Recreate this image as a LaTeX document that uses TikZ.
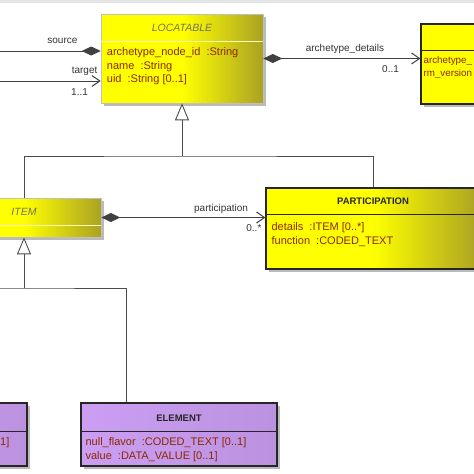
\documentclass[tikz,border=0pt]{standalone}
\usepackage{fontspec}
\setmainfont{Liberation Sans}
\usetikzlibrary{arrows.meta,shadows}
\definecolor{classolive}{RGB}{170,162,35}
\definecolor{classlilac}{RGB}{203,158,243}
\definecolor{attrred}{RGB}{140,40,0}
\definecolor{abstractgray}{RGB}{115,115,95}

\begin{document}
\begin{tikzpicture}
[x=1pt, y=-1pt,
abstract class/.style={left color=yellow, right color=classolive, middle color=yellow, draw=black!25, line width=0.6pt, inner sep=0pt, drop shadow={shadow xshift=3pt, shadow yshift=-3pt, fill=black!45, opacity=.6}},
concrete class/.style={abstract class, draw=black!85, line width=1.2pt},
lilac class/.style={left color=classlilac, right color=classlilac!92!black, draw=black!85, line width=1.2pt, inner sep=0pt, drop shadow={shadow xshift=3pt, shadow yshift=-3pt, fill=black!45, opacity=.6}},
abstract title/.style={font=\fontsize{10.5}{12}\selectfont\itshape, text=abstractgray},
concrete title/.style={font=\fontsize{9.5}{11}\selectfont\bfseries, text=black!85},
attribute/.style={font=\fontsize{11}{13.5}\selectfont, text=attrred, align=left, anchor=north west, inner sep=0pt},
role/.style={font=\fontsize{10}{12}\selectfont, text=black!80, inner sep=1pt},
light divider/.style={draw=yellow!30!white, line width=1.2pt},
dark divider/.style={draw=black!85, line width=1pt},
association/.style={draw=black!75, line width=1pt},
composition/.style={association, {Diamond[length=19pt, width=9pt]}-},
navigable/.style={association, -{Straight Barb[length=8pt, width=11pt]}},
navigable composition/.style={association, {Diamond[length=19pt, width=9pt]}-{Straight Barb[length=8pt, width=11pt]}},
hierarchy/.style={draw=black!70, line width=0.9pt},
inheritance/.style={hierarchy, -{Triangle[length=17pt, width=14pt, fill=white]}}]
\useasboundingbox (0,0) rectangle (474,474);
\clip (0,0) rectangle (474,474);
\fill[white] (0,0) rectangle (474,474);
\fill[black!10] (0,0) rectangle (474,3);
\node[abstract class, minimum width=162, minimum height=89] (locatable) at (182,58.5) {};
\draw[light divider] ([yshift=-28pt]locatable.north west) -- ([yshift=-28pt]locatable.north east);
\node[abstract title] (locatable title) at ([yshift=-14pt]locatable.north) {LOCATABLE};
\node[attribute] (locatable attributes) at ([xshift=6pt, yshift=-34pt]locatable.north west) {archetype\_node\_id~ :String\\name~ :String\\uid~ :String [0..1]};
\node[concrete class, minimum width=160, minimum height=80] (archetyped) at (501,64) {};
\draw[dark divider] ([yshift=-27pt]archetyped.north west) -- ([yshift=-27pt]archetyped.north east);
\node[attribute, font=\fontsize{9.8}{13}\selectfont] (archetyped attributes) at ([xshift=3pt, yshift=-33pt]archetyped.north west) {archetype\_\\rm\_version};
\node[abstract class, minimum width=154, minimum height=39] (item) at (24,217.5) {};
\draw[light divider] ([yshift=-28pt]item.north west) -- ([yshift=-28pt]item.north east);
\node[abstract title] (item title) at ([yshift=-14pt]item.north) {ITEM};
\node[concrete class, minimum width=214, minimum height=81] (participation) at (373,228.5) {};
\draw[dark divider] ([yshift=-27pt]participation.north west) -- ([yshift=-27pt]participation.north east);
\node[concrete title] (participation title) at ([yshift=-14pt]participation.north) {PARTICIPATION};
\node[attribute] (participation attributes) at ([xshift=6pt, yshift=-35pt]participation.north west) {details~ :ITEM [0..*]\\function~ :CODED\_TEXT};
\node[lilac class, minimum width=196, minimum height=63] (element) at (179,434.5) {};
\draw[dark divider] ([yshift=-29pt]element.north west) -- ([yshift=-29pt]element.north east);
\node[concrete title] (element title) at ([yshift=-15.5pt]element.north) {ELEMENT};
\node[attribute] (element attributes) at ([xshift=5pt, yshift=-35pt]element.north west) {null\_flavor~ :CODED\_TEXT [0..1]\\value~ :DATA\_VALUE [0..1]};
\node[lilac class, minimum width=177, minimum height=63] (cluster) at (-61.5,434.5) {};
\draw[dark divider] ([yshift=-29pt]cluster.north west) -- ([yshift=-29pt]cluster.north east);
\node[attribute, anchor=north east] (cluster attributes) at ([xshift=-18pt, yshift=-35pt]cluster.north east) {1]};
\coordinate (source end) at (0,51);
\coordinate (target end) at (0,81);
\coordinate (locatable rail) at (182,156);
\coordinate (item rail) at (24,288);
\draw[composition] (locatable.west |- source end) -- node[role, pos=0.38, above=6pt] (source label) {source} (source end);
\draw[navigable] (target end) -- node[role, pos=0.84, above=4pt] (target label) {target} node[role, pos=0.79, below=6pt] (target multiplicity) {1..1} (locatable.west |- target end);
\draw[navigable composition] (locatable.east) -- node[role, pos=0.52, above=3pt] (archetype details label) {archetype\_details} node[role, pos=0.81, below=6pt] (archetype details multiplicity) {0..1} (locatable.east -| archetyped.west);
\draw[navigable composition] (item.east) -- node[role, pos=0.73, above=2pt] (participation label) {participation} node[role, pos=0.93, below=6pt] (participation multiplicity) {0..*} (item.east -| participation.west);
\draw[hierarchy] (item.north) |- (locatable rail) -| (participation.north);
\draw[inheritance] (locatable rail) -- (locatable.south);
\draw[hierarchy] (cluster.north) |- (item rail) -| ([xshift=-53pt]element.north);
\draw[inheritance] (item rail) -- (item.south);
\end{tikzpicture}
\end{document}
